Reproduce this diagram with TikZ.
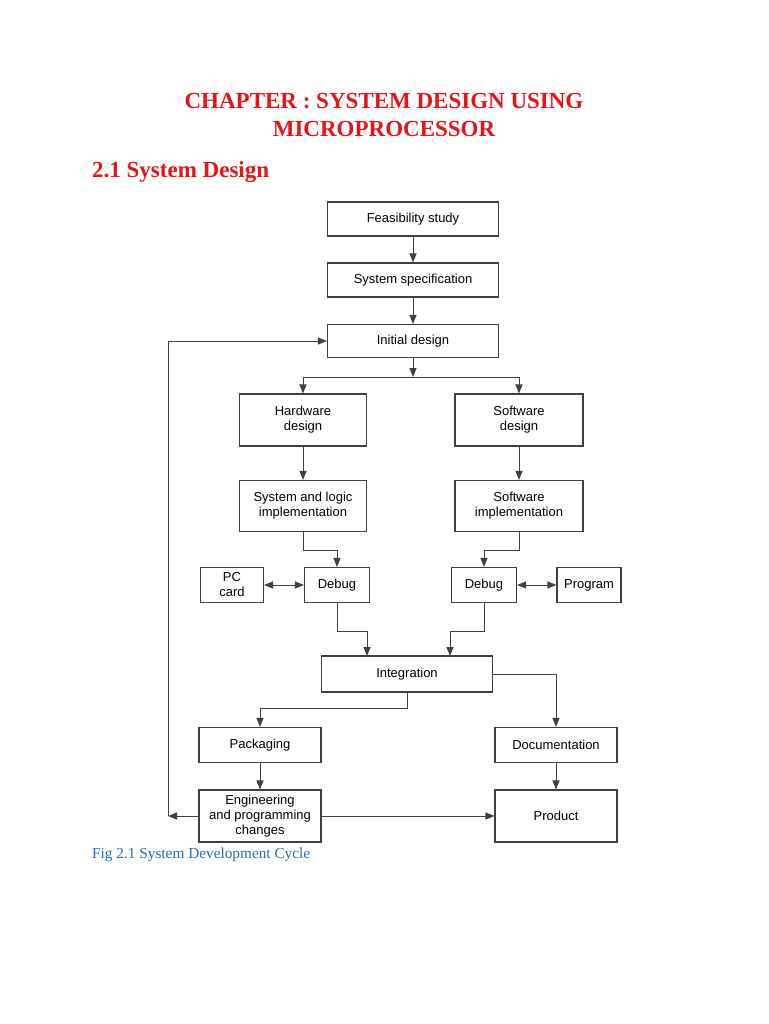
\documentclass[tikz,border=0pt]{standalone}
\usepackage{fontspec}
\setmainfont{Liberation Serif}
\newfontfamily\boxfont{Liberation Sans}
\usetikzlibrary{arrows.meta}
\definecolor{titred}{RGB}{230,20,20}
\definecolor{capblue}{RGB}{40,110,180}
\begin{document}
\begin{tikzpicture}[x=1pt,y=-1pt,
 box/.style={draw=black!75,line width=1.1pt,minimum width=#1,font=\boxfont\fontsize{13}{15}\selectfont,align=center,inner sep=1pt},
 h/.style={box=171,minimum height=34},
 a/.style={-{Triangle[length=9pt,width=7pt]},line width=1pt,draw=black!75},
 ln/.style={line width=1pt,draw=black!75}]
\useasboundingbox[fill=white] (0,0) rectangle (768,1024);
\node[text=titred,font=\bfseries\fontsize{23}{26}\selectfont] (t1) at (384,101) {CHAPTER : SYSTEM DESIGN USING};
\node[text=titred,font=\bfseries\fontsize{23}{26}\selectfont] (t2) at (384,129) {MICROPROCESSOR};
\node[text=titred,font=\bfseries\fontsize{23}{26}\selectfont,anchor=west,inner sep=0] (t3) at (92,172) {2.1 System Design};
\node[text=capblue,font=\fontsize{15.3}{17}\selectfont,anchor=west,inner sep=0] (cap) at (92,855) {Fig 2.1 System Development Cycle};

\node[h] (fs) at (413,219) {Feasibility study};
\node[h] (ss) at (413,280) {System specification};
\node[h,minimum height=33] (id) at (413,341) {Initial design};
\node[box=127,minimum height=52] (hd) at (303,420) {Hardware\\design};
\node[box=128,minimum height=52] (sd) at (519,420) {Software\\design};
\node[box=127,minimum height=51] (si) at (303,506) {System and logic\\implementation};
\node[box=128,minimum height=51] (swi) at (519,506) {Software\\implementation};
\node[box=63,minimum height=35] (pc) at (232,585) {PC\\card};
\node[box=65,minimum height=35] (dl) at (337,585) {Debug};
\node[box=65,minimum height=35] (dr) at (484,585) {Debug};
\node[box=64,minimum height=35] (pg) at (589,585) {Program};
\node[box=171,minimum height=36] (in) at (407,674) {Integration};
\node[box=122,minimum height=35] (pk) at (260,745) {Packaging};
\node[box=122,minimum height=35] (dc) at (556,745) {Documentation};
\node[box=122,minimum height=52] (en) at (260,816) {Engineering\\and programming\\changes};
\node[box=122,minimum height=52] (pr) at (556,816) {Product};

\coordinate (sp) at (413,377);
\coordinate (fb) at (168,816);
\draw[a] (fs) -- (ss);
\draw[a] (ss) -- (id);
\draw[a] (id) -- (sp);
\draw[ln] (303,377) -- (519,377);
\draw[a] (303,377) -- (hd);
\draw[a] (519,377) -- (sd);
\draw[a] (hd) -- (si);
\draw[a] (sd) -- (swi);
\draw[a] (si.south) -- (303,550) -| (dl.north);
\draw[a] (swi.south) -- (519,550) -| (dr.north);
\draw[a] (337,603) -- (337,631) -| (367,656);
\draw[a] (484,603) -- (484,631) -| (450,656);
\draw[{Triangle[length=9pt,width=7pt]}-{Triangle[length=9pt,width=7pt]},ln] (pc) -- (dl);
\draw[{Triangle[length=9pt,width=7pt]}-{Triangle[length=9pt,width=7pt]},ln] (dr) -- (pg);
\draw[a] (in.south) -- (407,708) -| (pk.north);
\draw[a] (in.east) -| (dc.north);
\draw[a] (pk) -- (en);
\draw[a] (dc) -- (pr);
\draw[a] (en) -- (pr);
\draw[a] (en.west) -- (fb);
\draw[a] (fb) |- (id.west);
\end{tikzpicture}
\end{document}
